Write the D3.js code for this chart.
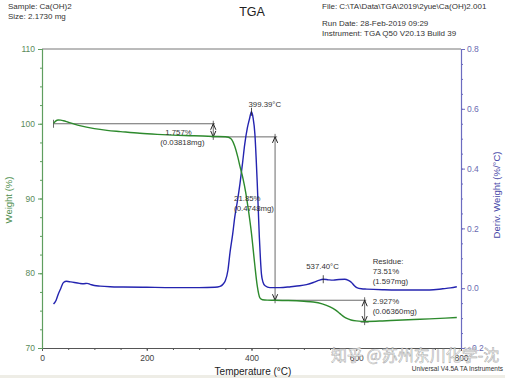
<!DOCTYPE html>
<html><head><meta charset="utf-8">
<script src="https://cdn.jsdelivr.net/npm/d3@7"></script>
<style>
html,body{margin:0;padding:0;background:#fff;}
svg{display:block;font-family:"Liberation Sans",Arial,sans-serif;}
</style></head>
<body><svg id="c" width="505" height="378"></svg>
<script>
// ---- data ----
const weightT = [22,26,31,36,41,50,72,100,124,150,187,220,250,290,327,350,356,362,368,374,378,384,389,394,400,406,411,416,421,430,445,470,500,518,535,550,560,569,576,582,590,600,620,650,677,710,740,770,792];
const weightV = [100.05,100.35,100.5,100.48,100.4,100.2,99.75,99.35,99.12,98.95,98.72,98.58,98.48,98.4,98.3,98.26,98.2,97.9,97.0,95.5,94.3,92.6,90.8,88.5,85.3,81.3,78.3,76.7,76.45,76.4,76.39,76.35,76.25,76.15,75.9,75.5,75.1,74.6,74.2,73.95,73.75,73.63,73.55,73.62,73.72,73.82,73.9,74.0,74.08];
const derivT = [22,27,31,36,41,47,55,72,80,86,92,100,111,130,155,200,250,300,330,340,346,350,355,359,364,368,373,378,383,387,392,396,400,403,406.5,409,411,413,415,417,419,422,426,435,454,475,492,505,518,528,537,547,556,567,578,585,591,596,601,610,620,650,677,710,740,765,780,792];
const derivV = [-0.053,-0.04,-0.02,0.0,0.019,0.023,0.021,0.016,0.015,0.016,0.013,0.009,0.007,0.005,0.004,0.003,0.002,0.002,0.003,0.006,0.014,0.025,0.06,0.12,0.18,0.237,0.29,0.35,0.42,0.48,0.535,0.565,0.59,0.57,0.515,0.43,0.35,0.26,0.17,0.1,0.047,0.02,0.008,0.002,0.002,0.005,0.008,0.012,0.019,0.026,0.03,0.028,0.027,0.029,0.03,0.026,0.019,0.009,0.002,-0.002,-0.003,-0.005,-0.006,-0.006,-0.006,-0.002,0.001,0.005];
const xTicks = [0,200,400,600,800];
const wTicks = [70,80,90,100,110];
const dTicks = [-0.2,0.0,0.2,0.4,0.6,0.8];
// step annotations: [T at arrow, upper %, lower %, label1, label2]
const steps = [
  {t:327, hi:100.0, lo:98.243, l1:"1.757%", l2:"(0.03818mg)"},
  {t:445, hi:98.243, lo:76.39, l1:"21.85%", l2:"(0.4748mg)"},
  {t:616, hi:76.39, lo:73.463, l1:"2.927%", l2:"(0.06360mg)"}
];
const peaks = [{t:400, v:0.59, label:"399.39°C"},{t:537, v:0.03, label:"537.40°C"}];
const residue = ["Residue:","73.51%","(1.597mg)"];

// ---- layout ----
const svg = d3.select("#c");
const L=42,R=461,T=49,B=348;
const x = d3.scaleLinear().domain([0,800]).range([L,R]);
const yW = d3.scaleLinear().domain([70,110]).range([B,T]);
const yD = d3.scaleLinear().domain([-0.2,0.8]).range([B,T]);
const green="#2d8a2d", blue="#2424b0", gAxis="#5f9e5f", bAxis="#6c6cc0", txt="#333";

svg.append("rect").attr("x",0).attr("y",375).attr("width",505).attr("height",3).attr("fill","#eeede6");

// header
const hdr = svg.append("g").attr("font-size",8).attr("fill",txt).style("white-space","pre");
hdr.append("text").attr("x",8).attr("y",9).text("Sample: Ca(OH)2");
hdr.append("text").attr("x",8).attr("y",19).text("Size:  2.1730 mg");
hdr.append("text").attr("x",322).attr("y",9).text("File: C:\\TA\\Data\\TGA\\2019\\2yue\\Ca(OH)2.001");
hdr.append("text").attr("x",322).attr("y",26).text("Run Date: 28-Feb-2019 09:29");
hdr.append("text").attr("x",322).attr("y",36).text("Instrument: TGA Q50 V20.13 Build 39");
svg.append("text").attr("x",252).attr("y",16).attr("text-anchor","middle").attr("font-size",12.5).attr("fill","#222").text("TGA");

// top frame
svg.append("line").attr("x1",L).attr("x2",R).attr("y1",T).attr("y2",T).attr("stroke","#777").attr("stroke-width",1);

// x axis
const xMinor = svg.append("g").attr("transform",`translate(0,${B})`)
  .call(d3.axisBottom(x).tickValues(d3.range(0,801,50)).tickSize(2).tickFormat(""));
xMinor.select(".domain").attr("stroke","#555");
xMinor.selectAll(".tick line").attr("stroke","#555");
const xMaj = svg.append("g").attr("transform",`translate(0,${B})`)
  .call(d3.axisBottom(x).tickValues(xTicks).tickSize(3).tickPadding(4).tickFormat(d3.format("d")));
xMaj.select(".domain").remove();
xMaj.selectAll(".tick line").attr("stroke","#555");
xMaj.selectAll("text").attr("font-size",8.5).attr("fill","#444").attr("font-family","Liberation Sans, Arial");

// left axis
const lMin = svg.append("g").attr("transform",`translate(${L},0)`)
  .call(d3.axisLeft(yW).tickValues(d3.range(70,110.01,2.5)).tickSize(2).tickFormat(""));
lMin.select(".domain").attr("stroke",gAxis).attr("stroke-width",1.2);
lMin.selectAll(".tick line").attr("stroke",gAxis);
const lMaj = svg.append("g").attr("transform",`translate(${L},0)`)
  .call(d3.axisLeft(yW).tickValues(wTicks).tickSize(4).tickPadding(3).tickFormat(d3.format("d")));
lMaj.select(".domain").remove();
lMaj.selectAll(".tick line").attr("stroke",gAxis);
lMaj.selectAll("text").attr("font-size",8.5).attr("fill","#5a8a5a").attr("font-family","Liberation Sans, Arial");

// right axis
const rMin = svg.append("g").attr("transform",`translate(${R},0)`)
  .call(d3.axisRight(yD).tickValues(d3.range(-0.2,0.801,0.05)).tickSize(2).tickFormat(""));
rMin.select(".domain").attr("stroke",bAxis).attr("stroke-width",1.2);
rMin.selectAll(".tick line").attr("stroke",bAxis);
const rMaj = svg.append("g").attr("transform",`translate(${R},0)`)
  .call(d3.axisRight(yD).tickValues(dTicks).tickSize(4).tickPadding(2).tickFormat(d3.format(".1f")));
rMaj.select(".domain").remove();
rMaj.selectAll(".tick line").attr("stroke",bAxis);
rMaj.selectAll("text").attr("font-size",8.5).attr("fill","#6a6ab0").attr("font-family","Liberation Sans, Arial");

// axis titles
svg.append("text").attr("transform","translate(12,200) rotate(-90)").attr("text-anchor","middle")
  .attr("font-size",9.5).attr("fill","#4e8e4e").text("Weight (%)");
svg.append("text").attr("transform","translate(500,195) rotate(-90)").attr("text-anchor","middle")
  .attr("font-size",9.5).attr("fill","#4848a8").text("Deriv. Weight (%/°C)");
svg.append("text").attr("x",253).attr("y",375).attr("text-anchor","middle")
  .attr("font-size",10).attr("fill","#222").text("Temperature (°C)");
svg.append("text").attr("x",503).attr("y",371).attr("text-anchor","end")
  .attr("font-size",6.5).attr("fill","#333").text("Universal V4.5A TA Instruments");

// annotation lines
const ann = svg.append("g").attr("stroke","#444").attr("stroke-width",0.8).attr("fill","none");
function hline(t1,t2,w){ann.append("line").attr("x1",x(t1)).attr("x2",x(t2)).attr("y1",yW(w)).attr("y2",yW(w));}
hline(weightT[0], steps[0].t+3, steps[0].hi);
ann.append("line").attr("x1",x(weightT[0])).attr("x2",x(weightT[0])).attr("y1",yW(steps[0].hi)-4).attr("y2",yW(steps[0].hi)+4);
hline(steps[0].t-3, steps[1].t+4, steps[0].lo);
hline(steps[1].t-4, steps[2].t+3, steps[1].lo);
function darrow(s){
  const ax=x(s.t), y1=yW(s.hi), y2=yW(s.lo);
  ann.append("line").attr("x1",ax).attr("x2",ax).attr("y1",y1-3).attr("y2",y2+3);
  const h=Math.min(6,(y2-y1)/2), w=2.6;
  ann.append("path").attr("d",`M${ax-w},${y1+h}L${ax},${y1}L${ax+w},${y1+h}`).attr("stroke","#222").attr("stroke-width",1);
  ann.append("path").attr("d",`M${ax-w},${y2-h}L${ax},${y2}L${ax+w},${y2-h}`).attr("stroke","#222").attr("stroke-width",1);
}
steps.forEach(darrow);
ann.append("line").attr("x1",x(steps[2].t)-4).attr("x2",x(steps[2].t)+4).attr("y1",yW(steps[2].lo)).attr("y2",yW(steps[2].lo));

// curves
const lineW = d3.line().x((d,i)=>x(weightT[i])).y(d=>yW(d)).curve(d3.curveMonotoneX);
const lineD = d3.line().x((d,i)=>x(derivT[i])).y(d=>yD(d)).curve(d3.curveMonotoneX);
svg.append("path").attr("d",lineD(derivV)).attr("fill","none").attr("stroke",blue).attr("stroke-width",1.4);
svg.append("path").attr("d",lineW(weightV)).attr("fill","none").attr("stroke",green).attr("stroke-width",1.4);

// labels
const lab = svg.append("g").attr("font-size",7.8).attr("fill","#333");
lab.append("text").attr("x",x(steps[0].t)-48).attr("y",yW(steps[0].lo)-2).text(steps[0].l1);
lab.append("text").attr("x",x(steps[0].t)-53).attr("y",yW(steps[0].lo)+8).text(steps[0].l2);
lab.append("text").attr("x",x(steps[1].t)-41).attr("y",yW(89.6)).text(steps[1].l1);
lab.append("text").attr("x",x(steps[1].t)-41).attr("y",yW(88.3)).text(steps[1].l2);
lab.append("text").attr("x",x(steps[2].t)+8).attr("y",yW(steps[2].hi)+4).text(steps[2].l1);
lab.append("text").attr("x",x(steps[2].t)+8).attr("y",yW(steps[2].hi)+14).text(steps[2].l2);
residue.forEach((r,i)=>lab.append("text").attr("x",x(616)+8).attr("y",yD(0.03)-15+i*10).text(r));
peaks.forEach((p,i)=>{
  svg.append("line").attr("x1",x(p.t)).attr("x2",x(p.t)).attr("y1",yD(p.v)-4).attr("y2",yD(p.v)+4).attr("stroke","#222").attr("stroke-width",0.8);
  lab.append("text").attr("x",x(p.t)+(i===0?-3:-17)).attr("y",yD(p.v)-(i===0?5:10)).text(p.label);
});

// watermark
svg.append("text").attr("x",331).attr("y",361).attr("font-size",16)
  .attr("font-family","Noto Sans CJK SC, sans-serif")
  .attr("fill","#ffffff").attr("fill-opacity",0.85).attr("stroke","#9a9a9a").attr("stroke-width",0.6).attr("stroke-opacity",0.8)
  .style("white-space","pre").text("知乎 @苏州东川化学-沈");
</script></body></html>
